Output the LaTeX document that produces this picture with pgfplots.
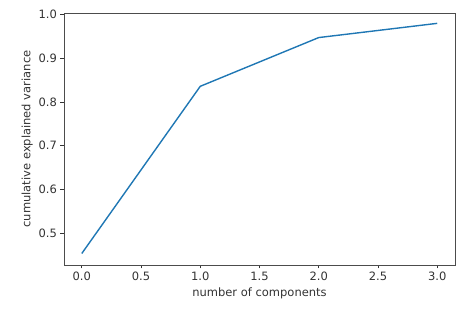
\documentclass[border=0pt]{standalone}
\usepackage{fontspec}
\setmainfont{DejaVu Sans}
\usepackage{pgfplots}
\pgfplotsset{compat=1.18}
\definecolor{mplblue}{HTML}{1F77B4}
\definecolor{txt}{HTML}{333333}
\begin{document}
\begin{tikzpicture}
\useasboundingbox (-64pt,-55pt) rectangle (410pt,265pt);
\begin{axis}[
  at={(0pt,0pt)}, anchor=south west,
  scale only axis,
  width=391pt, height=252pt,
  xmin=-0.15, xmax=3.15,
  ymin=0.4273, ymax=1.0037,
  xtick={0,0.5,...,3},
  ytick={0.5,0.6,...,1.0},
  /pgf/number format/assume math mode=true,
  xticklabel style={/pgf/number format/.cd, fixed, fixed zerofill, precision=1},
  yticklabel style={/pgf/number format/.cd, fixed, fixed zerofill, precision=1},
  tick label style={font=\fontsize{11.5}{13}\selectfont, text=txt},
  label style={font=\fontsize{11.5}{13}\selectfont, text=txt},
  tick align=outside,
  tick pos=left,
  major tick length=3.5pt,
  tick style={black!80, line width=0.6pt},
  axis line style={black!70, line width=0.8pt},
  xlabel={number of components},
  ylabel={cumulative explained variance},
  xlabel style={yshift=0pt},
  ylabel style={yshift=-1pt},
]
\addplot[mplblue, line width=1.4pt] coordinates {
  (0,0.4536) (1,0.836) (2,0.9475) (3,0.980)
};
\end{axis}
\end{tikzpicture}
\end{document}
